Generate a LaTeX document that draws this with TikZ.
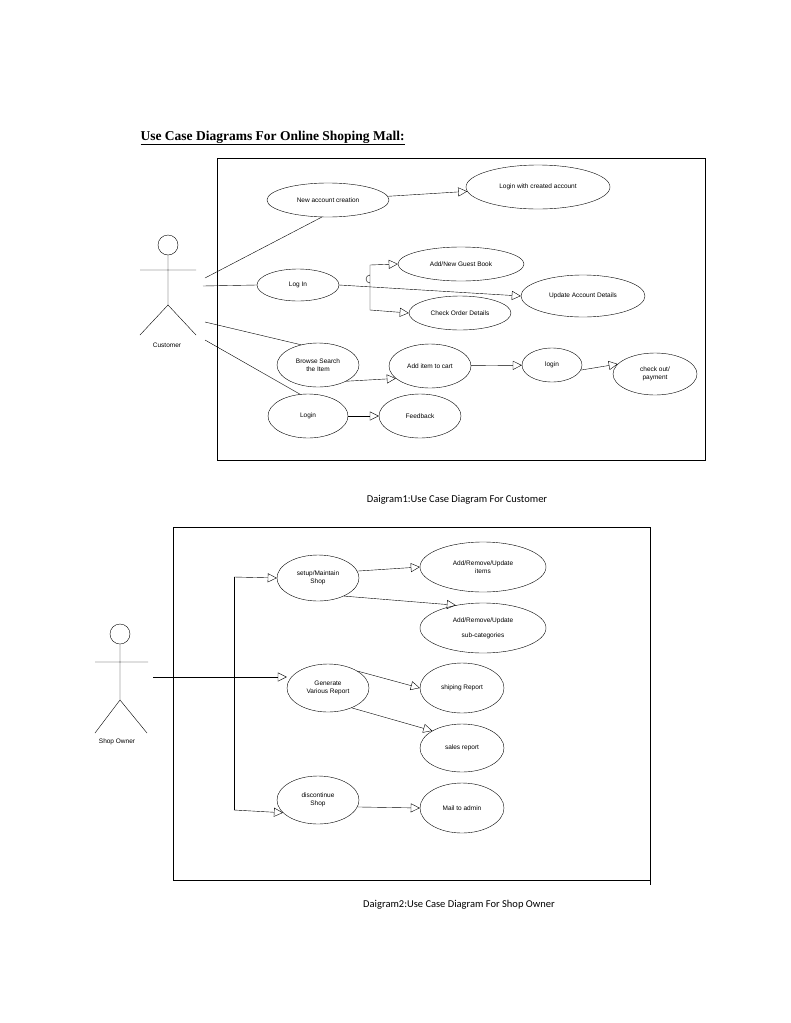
\documentclass[tikz,border=0pt]{standalone}
\usepackage{fontspec}
\setmainfont{Liberation Sans}
\newfontfamily\titlefont{Liberation Serif}
\newfontfamily\capfont{Carlito}
\usepackage{tikz}
\usetikzlibrary{%
    arrows.meta,%
    shapes.geometric,%
    positioning%
}

\begin{document}
\begin{tikzpicture}[
  x=1pt, y=-1pt,
  usecase/.style={draw, ellipse, inner sep=0pt, align=center,
    font={\fontsize{6.5}{8}\selectfont}},
  actorname/.style={font={\fontsize{6.5}{8}\selectfont}},
  gen/.style={-{Triangle[open, length=9pt, width=9pt]}},
  ]
  \useasboundingbox (0,0) rectangle (791,1023);
  % Title
  \node[anchor=west, font={\titlefont\bfseries\fontsize{13.5}{15}\selectfont}]
    (title) at (137,138) {\underline{Use Case Diagrams For Online Shoping Mall:}};

  % Diagram 1: customer
  \draw (217,158) rectangle (705,460);
  \draw (168,245) circle (10);
  \draw (168,255) -- (168,305) (140,270) -- (196,270)
        (140,335) -- (168,305) -- (196,335);
  \node[actorname] (customer) at (167,345) {Customer};
  \coordinate (c1) at (205,278);
  \coordinate (c2) at (203,286);
  \coordinate (c3) at (205,322);
  \coordinate (c4) at (205,340);

  \node[usecase, minimum width=122, minimum height=34] (newacc) at (328,200) {New account creation};
  \node[usecase, minimum width=144, minimum height=44] (logcre) at (538,187) {Login with created account};
  \node[usecase, minimum width=82, minimum height=32] (logina) at (298,285) {Log In};
  \node[usecase, minimum width=126, minimum height=34] (guest) at (461,264) {Add/New Guest Book};
  \node[usecase, minimum width=124, minimum height=42] (update) at (583,296) {Update Account Details};
  \node[usecase, minimum width=102, minimum height=34] (order) at (460,313) {Check Order Details};
  \node[usecase, minimum width=82, minimum height=44] (browse) at (318,365) {Browse Search\\the Item};
  \node[usecase, minimum width=82, minimum height=44] (cart) at (430,366) {Add item to cart};
  \node[usecase, minimum width=60, minimum height=34] (loginb) at (552,365) {login};
  \node[usecase, minimum width=84, minimum height=42] (checkout) at (655,374) {check out/\\payment};
  \node[usecase, minimum width=80, minimum height=44] (loginc) at (308,416) {Login};
  \node[usecase, minimum width=82, minimum height=44] (feedback) at (420,416) {Feedback};

  \draw (c1) -- (newacc.250);
  \draw (c2) -- (logina.west);
  \draw (c3) -- (browse.130);
  \draw (c4) -- (loginc.110);
  \draw[gen] (newacc) -- (logcre);
  % branching from Log In, with a jump over the middle line
  \coordinate (jt) at (370,265);
  \coordinate (jb) at (370,310);
  \draw (jt) -- (370,283) arc (-90:90:-4) -- (jb);
  \draw[gen] (logina.east) -- (update.west);
  \draw[gen] (jt) -- (guest.west);
  \draw[gen] (jb) -- (order.west);
  \draw[gen] (browse.-30) -- (cart.200);
  \draw[gen] (cart) -- (loginb);
  \draw[gen] (loginb.-10) -- (checkout.165);
  \draw[gen] (loginc) -- (feedback);

  \node[font={\capfont\fontsize{10.5}{12}\selectfont}] (cap1) at (457,500)
    {Daigram1:Use Case Diagram For Customer};

  % Diagram 2: shop owner
  \draw (173,527) rectangle (650,880);
  \draw (650,880) -- (650,885);
  \draw (120,634) circle (10);
  \draw (120,644) -- (120,700) (95,662) -- (148,662)
        (95,733) -- (120,700) -- (147,733);
  \node[actorname] (owner) at (117,742) {Shop Owner};
  \coordinate (o1) at (153,677);

  \node[usecase, minimum width=82, minimum height=46] (setup) at (318,578) {setup/Maintain\\Shop};
  \node[usecase, minimum width=126, minimum height=50] (items) at (483,567) {Add/Remove/Update\\items};
  \node[usecase, minimum width=126, minimum height=50] (subcat) at (483,628) {Add/Remove/Update\\[7pt]sub-categories};
  \node[usecase, minimum width=82, minimum height=48] (generate) at (328,688) {Generate\\Various Report};
  \node[usecase, minimum width=84, minimum height=50] (shiping) at (462,688) {shiping Report};
  \node[usecase, minimum width=84, minimum height=48] (sales) at (462,748) {sales report};
  \node[usecase, minimum width=82, minimum height=48] (discont) at (318,800) {discontinue\\Shop};
  \node[usecase, minimum width=84, minimum height=50] (mail) at (462,808) {Mail to admin};

  \coordinate (bt) at (234,577);
  \coordinate (bb) at (234,810);
  \draw (bt) -- (bb);
  \draw[gen] (o1) -- (generate.west |- o1);
  \draw[gen] (bt) -- (setup.west);
  \draw[gen] (bb) -- (discont.200);
  \draw[gen] (setup.10) -- (items.west);
  \draw[gen] (setup.-35) -- (subcat.140);
  \draw[gen] (generate.30) -- (shiping.west);
  \draw[gen] (generate.-40) -- (sales.150);
  \draw[gen] (discont.-10) -- (mail.west);

  \node[font={\capfont\fontsize{10.5}{12}\selectfont}] (cap2) at (459,905)
    {Daigram2:Use Case Diagram For Shop Owner};
\end{tikzpicture}
\end{document}
